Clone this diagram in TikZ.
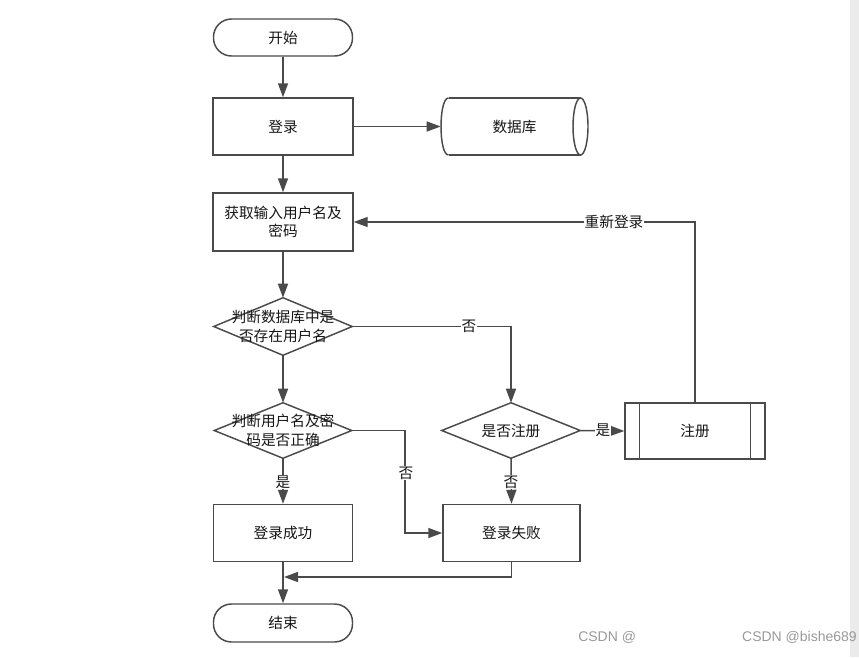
\documentclass[tikz,border=0pt]{standalone}
\usepackage{fontspec}
\setmainfont{Noto Sans CJK SC}
\newfontfamily\wmfont{Liberation Sans}
\usetikzlibrary{arrows.meta}
\definecolor{lc}{HTML}{4A4A4A}
\definecolor{tc}{HTML}{151515}
\begin{document}
\begin{tikzpicture}[x=0.75pt,y=-0.75pt,
  every node/.style={font=\fontsize{11pt}{14pt}\selectfont, text=tc},
  line/.style={draw=lc, line width=1.1pt},
  arr/.style={line, -{Triangle[length=10.5pt,width=7.5pt]}},
  proc/.style={draw=lc, line width=1.1pt, fill=white, inner sep=0pt, align=center},
  term/.style={proc, rounded corners=13.5pt},
  decn/.style={inner sep=0pt, align=center},
  lab/.style={fill=white, inner sep=0.6pt},
  wmark/.style={font=\wmfont\fontsize{10.5pt}{12pt}\selectfont, text=black!40, inner sep=0pt}]
\useasboundingbox (0,0) rectangle (859,657);
\fill[black!8] (850,0) rectangle (859,657);

% nodes
\node[term, minimum width=104.25pt, minimum height=27.75pt] (start) at (283,37.5) {开始};
\node[proc, minimum width=105pt, minimum height=42.75pt] (login) at (283,126.5) {登录};
\node[inner sep=0pt, minimum width=110.25pt, minimum height=42.75pt] (db) at (514.5,126.5) {数据库};
\node[proc, minimum width=105pt, minimum height=43.5pt] (get) at (283,222) {获取输入用户名及\\密码};
\node[decn, minimum width=103.5pt, minimum height=42.75pt] (d1) at (283,326.5) {};
\node[decn, minimum width=102.75pt, minimum height=41.25pt] (d2) at (283,430.5) {};
\node[decn, minimum width=103.5pt, minimum height=41.25pt] (d3) at (511,430.5) {};
\node[proc, minimum width=105pt, minimum height=42pt] (reg) at (695,431) {注册};
\node[proc, minimum width=104.25pt, minimum height=42.75pt] (succ) at (283,533) {登录成功};
\node[proc, minimum width=102.75pt, minimum height=42.75pt] (fail) at (511.5,533) {登录失败};
\node[term, minimum width=104.25pt, minimum height=28.5pt] (end) at (283,623) {结束};

% database cylinder outline
\draw[line] (448.5,98) -- (580.5,98);
\draw[line] (448.5,155) -- (580.5,155);
\draw[line] (448.5,98) .. controls (438.5,98) and (438.5,155) .. (448.5,155);
\draw[line] (580.5,126.5) ellipse [x radius=5.625pt, y radius=21.375pt];

% diamonds
\foreach \d in {d1,d2,d3}{
  \draw[line] (\d.north) -- (\d.east) -- (\d.south) -- (\d.west) -- cycle;
}
\node[decn] (t1) at (d1) {判断数据库中是\\否存在用户名};
\node[decn] (t2) at (d2) {判断用户名及密\\码是否正确};
\node[decn] (t3) at (d3) {是否注册};

% predefined process side bars
\draw[line] ([xshift=11.25pt]reg.north west) -- ([xshift=11.25pt]reg.south west);
\draw[line] ([xshift=-11.25pt]reg.north east) -- ([xshift=-11.25pt]reg.south east);

% connectors
\draw[arr] (start) -- (login);
\draw[arr] (login) -- (db.west);
\draw[arr] (login) -- (get);
\draw[arr] (get) -- (d1.north);
\draw[arr] (d1.east) -| (d3.north);
\draw[arr] (d1.south) -- (d2.north);
\draw[arr] (d2.south) -- (succ.north);
\coordinate (k2) at (405,430.5);
\draw[arr] (d2.east) -- (k2) |- (fail.west);
\draw[arr] (d3.east) -- (reg.west);
\draw[arr] (d3.south) -- (fail.north);
\draw[arr] (reg.north) |- (get.east);
\draw[arr] (succ) -- (end);
\coordinate (m) at (284,577);
\draw[arr] (fail.south) |- (m);

% labels
\node[lab] (l1) at (469,326) {否};
\node[lab] (l2) at (283,482) {是};
\node[lab] (l3) at (406,473) {否};
\node[lab] (l4) at (603,430.5) {是};
\node[lab] (l5) at (511,482) {否};
\node[lab] (l6) at (614,222) {重新登录};

% watermark
\node[wmark, anchor=west] (w1) at (578,637) {CSDN @};
\node[wmark, anchor=east] (w2) at (857,637) {CSDN @bishe689};
\end{tikzpicture}
\end{document}
